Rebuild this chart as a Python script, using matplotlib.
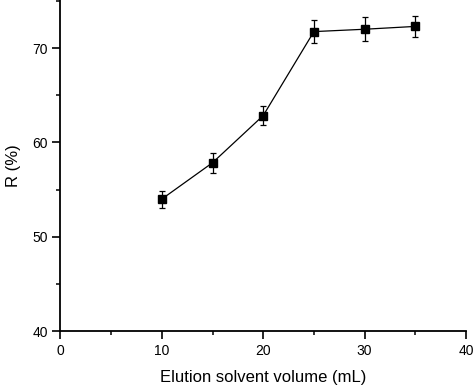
import matplotlib.pyplot as plt
from matplotlib.ticker import MultipleLocator

plt.rcParams['font.family'] = ['Liberation Sans', 'DejaVu Sans']

# data
volume = [10, 15, 20, 25, 30, 35]
recovery = [54.0, 57.85, 62.85, 71.75, 72.0, 72.3]
error = [0.9, 1.05, 1.0, 1.25, 1.25, 1.1]

fig = plt.figure(figsize=(4.74, 3.9), dpi=100)
ax = fig.add_axes([0.1276, 0.151, 0.8554, 0.849])

ax.errorbar(volume, recovery, yerr=error, color='black', lw=0.9,
            marker='s', markersize=6, capsize=2, capthick=0.9,
            elinewidth=0.9)

ax.set_xlim(0, 40)
ax.set_ylim(40, 75.1)
ax.xaxis.set_major_locator(MultipleLocator(10))
ax.xaxis.set_minor_locator(MultipleLocator(5))
ax.yaxis.set_major_locator(MultipleLocator(10))
ax.yaxis.set_minor_locator(MultipleLocator(5))

for s in ['top', 'right']:
    ax.spines[s].set_visible(False)
for s in ['left', 'bottom']:
    ax.spines[s].set_linewidth(1.3)

ax.tick_params(which='major', direction='out', length=6, width=1.2,
               labelsize=10, pad=3)
ax.tick_params(which='minor', direction='out', length=3, width=1.1)

ax.set_xlabel('Elution solvent volume (mL)', fontsize=12, labelpad=9)
ax.set_ylabel('R (%)', fontsize=12, labelpad=8)

fig.savefig('out.png', dpi=100)
